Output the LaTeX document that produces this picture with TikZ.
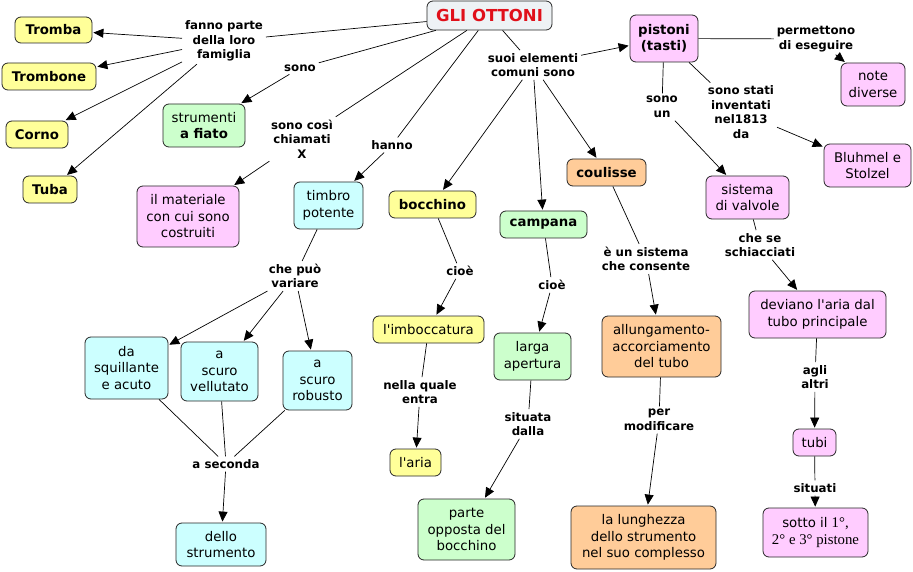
\documentclass[tikz,border=0pt]{standalone}
\usepackage{fontspec}
\setmainfont{DejaVu Sans}[Ligatures=TeXOff]
\newfontfamily\tnr{Liberation Serif}
\usetikzlibrary{arrows.meta}
\definecolor{cyel}{HTML}{FFFF99}
\definecolor{cgrn}{HTML}{CCFFCC}
\definecolor{cpnk}{HTML}{FFCCFF}
\definecolor{ccyn}{HTML}{CCFFFF}
\definecolor{corg}{HTML}{FFCC99}
\definecolor{cgry}{HTML}{EEF2F5}
\definecolor{cred}{HTML}{E0101A}
\tikzset{
  box/.style={draw=black!85, rounded corners=6pt, align=center, inner sep=1pt, line width=0.8pt,
    font=\fontsize{13.3}{16.5}\selectfont},
  bb/.style={box, font=\bfseries\fontsize{13.3}{16.5}\selectfont},
  lab/.style={align=center, inner sep=1pt, outer sep=2pt, font=\bfseries\fontsize{11.8}{14.5}\selectfont},
  ln/.style={draw=black, line width=0.7pt},
  ar/.style={ln, -{Triangle[length=10pt,width=9pt]}, shorten >=1pt}
}
\begin{document}
\begin{tikzpicture}[x=1pt,y=-1pt]
\useasboundingbox (0,0) rectangle (913,572);
% nodes
\node[bb, fill=cgry, text=cred, minimum width=125, minimum height=29, font=\bfseries\fontsize{16.5}{19}\selectfont] (got) at (489.5,15.5) {GLI OTTONI};
\node[bb, fill=cyel, minimum width=77, minimum height=26] (tromba) at (53.5,30) {Tromba};
\node[bb, fill=cyel, minimum width=94, minimum height=27] (trombone) at (49,76.5) {Trombone};
\node[bb, fill=cyel, minimum width=62, minimum height=27] (corno) at (37,134.5) {Corno};
\node[bb, fill=cyel, minimum width=54, minimum height=27] (tuba) at (50,189.5) {Tuba};
\node[box, fill=cgrn, minimum width=82, minimum height=43] (fiato) at (204,125.5) {strumenti\\\textbf{a fiato}};
\node[box, fill=cpnk, minimum width=102, minimum height=61] (mat) at (188,216.5) {il materiale\\con cui sono\\costruiti};
\node[box, fill=ccyn, minimum width=69, minimum height=47] (timbro) at (328.5,205.5) {timbro\\potente};
\node[bb, fill=cyel, minimum width=87, minimum height=27] (bocchino) at (432.5,204.5) {bocchino};
\node[bb, fill=cgrn, minimum width=87, minimum height=27] (campana) at (543.5,224.5) {campana};
\node[bb, fill=corg, minimum width=79, minimum height=27] (coulisse) at (606.5,172.5) {coulisse};
\node[bb, fill=cpnk, minimum width=68, minimum height=47] (pistoni) at (664,38.5) {pistoni\\(tasti)};
\node[box, fill=cpnk, minimum width=64, minimum height=43] (note) at (873,84.5) {note\\diverse};
\node[box, fill=cpnk, minimum width=87, minimum height=43] (bluh) at (867.5,165.5) {Bluhmel e\\Stolzel};
\node[box, fill=cpnk, minimum width=83, minimum height=43] (valv) at (747.5,197.5) {sistema\\di valvole};
\node[box, fill=cpnk, minimum width=137, minimum height=47] (dev) at (817.5,314.5) {deviano l'aria dal\\tubo principale};
\node[box, fill=cpnk, minimum width=43, minimum height=27] (tubi) at (814.5,442.5) {tubi};
\node[box, fill=cpnk, minimum width=105, minimum height=49] (sotto) at (815.5,532.5) {sotto il {\tnr\fontsize{14.8}{17}\selectfont 1°,}\\{\tnr\fontsize{14.8}{17}\selectfont 2° e 3° pistone}};
\node[box, fill=corg, minimum width=119, minimum height=61] (allu) at (661.5,346.5) {allungamento-\\accorciamento\\del tubo};
\node[box, fill=corg, minimum width=145, minimum height=63] (lung) at (643.5,537.5) {la lunghezza\\dello strumento\\nel suo complesso};
\node[box, fill=cgrn, minimum width=77, minimum height=47] (larga) at (532.5,356.5) {larga\\apertura};
\node[box, fill=cgrn, minimum width=97, minimum height=61] (parte) at (466.5,529.5) {parte\\opposta del\\bocchino};
\node[box, fill=cyel, minimum width=111, minimum height=27] (imbo) at (428.5,329.5) {l'imboccatura};
\node[box, fill=cyel, minimum width=51, minimum height=27] (aria) at (415.5,462.5) {l'aria};
\node[box, fill=ccyn, minimum width=83, minimum height=62] (squ) at (126.5,368) {da\\squillante\\e acuto};
\node[box, fill=ccyn, minimum width=77, minimum height=59] (vel) at (219.5,371.5) {a\\scuro\\vellutato};
\node[box, fill=ccyn, minimum width=69, minimum height=59] (rob) at (317.5,380.5) {a\\scuro\\robusto};
\node[box, fill=ccyn, minimum width=90, minimum height=43] (dello) at (221,544.5) {dello\\strumento};
% labels
\node[lab] (l1) at (224,41) {fanno parte\\della loro\\famiglia};
\node[lab] (l2) at (300,68) {sono};
\node[lab] (l3) at (302,139) {sono così\\chiamati\\X};
\node[lab] (l4) at (392,145) {hanno};
\node[lab] (l5) at (533,65) {suoi elementi\\comuni sono};
\node[lab] (l6) at (816,39) {permettono\\di eseguire};
\node[lab] (l7) at (662,107) {sono\\un};
\node[lab] (l8) at (741,112) {sono stati\\inventati\\nel1813\\da};
\node[lab] (l9) at (760,245) {che se\\schiacciati};
\node[lab] (l10) at (815,377) {agli\\altri};
\node[lab] (l11) at (815,488) {situati};
\node[lab] (l12) at (646,259) {è un sistema\\che consente};
\node[lab] (l13) at (659,420) {per\\modificare};
\node[lab] (l14) at (552,285) {cioè};
\node[lab] (l15) at (528,424) {situata\\dalla};
\node[lab] (l16) at (460,271) {cioè};
\node[lab] (l17) at (420,392) {nella quale\\entra};
\node[lab] (l18) at (295,276) {che può\\variare};
\node[lab] (l19) at (226,464) {a seconda};
% connectors
\draw[ln] (got) -- (l1);
\draw[ar] (l1) -- (tromba);
\draw[ar] (l1) -- (trombone);
\draw[ar] (l1) -- (corno);
\draw[ar] (l1) -- (tuba);
\draw[ln] (got) -- (l2);
\draw[ar] (l2) -- (fiato);
\draw[ln] (got) -- (l3);
\draw[ar] (l3) -- (mat);
\draw[ln] (got) -- (l4);
\draw[ar] (l4) -- (timbro);
\draw[ln] (got) -- (l5);
\draw[ar] (l5) -- (pistoni);
\draw[ar] (l5) -- (bocchino);
\draw[ar] (l5) -- (campana);
\draw[ar] (l5) -- (coulisse);
\draw[ln] (pistoni) -- (l6);
\draw[ar] (l6) -- (note);
\draw[ln] (pistoni) -- (l7);
\draw[ar] (l7) -- (valv);
\draw[ln] (pistoni) -- (l8);
\draw[ar] (l8) -- (bluh);
\draw[ln] (valv) -- (l9);
\draw[ar] (l9) -- (dev);
\draw[ln] (dev) -- (l10);
\draw[ar] (l10) -- (tubi);
\draw[ln] (tubi) -- (l11);
\draw[ar] (l11) -- (sotto);
\draw[ln] (coulisse) -- (l12);
\draw[ar] (l12) -- (allu);
\draw[ln] (allu) -- (l13);
\draw[ar] (l13) -- (lung);
\draw[ln] (campana) -- (l14);
\draw[ar] (l14) -- (larga);
\draw[ln] (larga) -- (l15);
\draw[ar] (l15) -- (parte);
\draw[ln] (bocchino) -- (l16);
\draw[ar] (l16) -- (imbo);
\draw[ln] (imbo) -- (l17);
\draw[ar] (l17) -- (aria);
\draw[ln] (timbro) -- (l18);
\draw[ar] (l18) -- (squ);
\draw[ar] (l18) -- (vel);
\draw[ar] (l18) -- (rob);
\draw[ln] (squ) -- (l19);
\draw[ln] (vel) -- (l19);
\draw[ln] (rob) -- (l19);
\draw[ar] (l19) -- (dello);
\end{tikzpicture}
\end{document}
